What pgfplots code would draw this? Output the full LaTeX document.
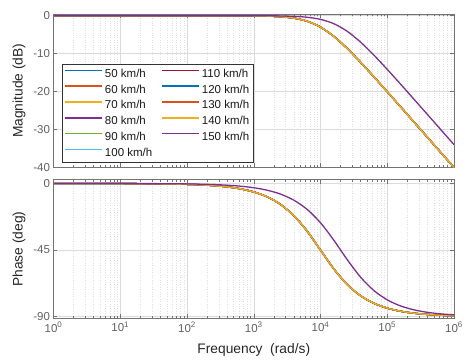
\documentclass[border=0pt]{standalone}
\usepackage{pgfplots}
\pgfplotsset{compat=1.18}
\usepackage{pgfplotstable}
\usepackage{fontspec}
\setmainfont{Liberation Sans}
\definecolor{c1}{rgb}{0,0.447,0.741}
\definecolor{c2}{rgb}{0.85,0.325,0.098}
\definecolor{c3}{rgb}{0.929,0.694,0.125}
\definecolor{c4}{rgb}{0.494,0.184,0.556}
\definecolor{c5}{rgb}{0.466,0.674,0.188}
\definecolor{c6}{rgb}{0.301,0.745,0.933}
\definecolor{c7}{rgb}{0.635,0.078,0.184}

% corner ~1e4 rad/s
\pgfplotstableread{
w mag ph
1e0 0 -0.0057
1.585e0 0 -0.0091
2.512e0 0 -0.0144
3.981e0 0 -0.0228
6.310e0 0 -0.0362
1e1 0 -0.0573
1.585e1 0 -0.0908
2.512e1 0 -0.1439
3.981e1 0 -0.2281
6.310e1 -0.0002 -0.3615
1e2 -0.0004 -0.5729
1.585e2 -0.0011 -0.908
2.512e2 -0.0027 -1.439
3.981e2 -0.0069 -2.280
6.310e2 -0.0173 -3.611
1e3 -0.0432 -5.711
1.585e3 -0.1077 -9.006
2.512e3 -0.2658 -14.10
3.981e3 -0.639 -21.70
6.310e3 -1.455 -32.25
1e4 -3.010 -45.00
1.585e4 -5.455 -57.75
2.512e4 -8.639 -68.30
3.981e4 -12.266 -75.90
6.310e4 -16.108 -81.00
1e5 -20.043 -84.29
1.585e5 -24.017 -86.39
2.512e5 -28.007 -87.72
3.981e5 -32.003 -88.56
6.310e5 -36.001 -89.09
1e6 -40.000 -89.43
}\tabA

% corner ~2e4 rad/s
\pgfplotstableread{
w mag ph
1e0 0 -0.0029
1.585e0 0 -0.0045
2.512e0 0 -0.0072
3.981e0 0 -0.0114
6.310e0 0 -0.0181
1e1 0 -0.0286
1.585e1 0 -0.0454
2.512e1 0 -0.0720
3.981e1 0 -0.1141
6.310e1 0 -0.1808
1e2 -0.0001 -0.2865
1.585e2 -0.0003 -0.454
2.512e2 -0.0007 -0.720
3.981e2 -0.0017 -1.140
6.310e2 -0.0043 -1.807
1e3 -0.0108 -2.862
1.585e3 -0.0272 -4.531
2.512e3 -0.0680 -7.159
3.981e3 -0.1688 -11.26
6.310e3 -0.4121 -17.51
1e4 -0.969 -26.57
1.585e4 -2.116 -38.39
2.512e4 -4.112 -51.47
3.981e4 -6.957 -63.33
6.310e4 -10.396 -72.41
1e5 -14.150 -78.69
1.585e5 -18.048 -82.81
2.512e5 -22.006 -85.45
3.981e5 -25.993 -87.12
6.310e5 -29.985 -88.18
1e6 -33.98 -88.85
}\tabB

\begin{document}
\begin{tikzpicture}
\useasboundingbox (0pt,0pt) rectangle (474pt,363pt);

\begin{axis}[
  scale only axis, width=400.5pt,
  xmode=log, xmin=1, xmax=1e6,
  axis line style={black!55, line width=0.6pt},
  tick style={black!55, line width=0.5pt},
  tick align=inside,
  major tick length=4pt, minor tick length=2.2pt,
  xtick={1e0,1e1,1e2,1e3,1e4,1e5,1e6},
  minor xtick={2e0,3e0,4e0,5e0,6e0,7e0,8e0,9e0,2e1,3e1,4e1,5e1,6e1,7e1,8e1,9e1,2e2,3e2,4e2,5e2,6e2,7e2,8e2,9e2,2e3,3e3,4e3,5e3,6e3,7e3,8e3,9e3,2e4,3e4,4e4,5e4,6e4,7e4,8e4,9e4,2e5,3e5,4e5,5e5,6e5,7e5,8e5,9e5},
  xmajorgrids, xminorgrids, ymajorgrids,
  major grid style={black!14, line width=0.4pt},
  minor grid style={black!12, dotted, line width=0.4pt},
  ticklabel style={font=\fontsize{11.5}{13}\selectfont, text=black!62},
  label style={font=\fontsize{13.8}{16}\selectfont, text=black!85},
  ylabel style={at={(axis description cs:-0.0861,0.5)}, anchor=center},
  every axis plot/.append style={line width=1.3pt, smooth},
  at={(53.5pt,195.5pt)}, anchor=south west, height=153.5pt,
  ymin=-40, ymax=0.45,
  ytick={-40,-30,-20,-10,0}, yticklabels={-40,-30,-20,-10,0},
  xticklabels={},
  ylabel={Magnitude (dB)},
  legend columns=2,
  legend cell align=left,
  legend image code/.code={\draw[line width=1.6pt, #1] (0pt,3.5pt) -- (37pt,3.5pt);},
  legend style={at={(0.0212,0.674)}, anchor=north west,
    draw=black!80, line width=0.8pt, fill=white,
    font=\fontsize{11.5}{13}\selectfont, text=black!90,
    inner xsep=2pt, inner ysep=2.5pt,
    row sep=2.0pt,
    /tikz/every even column/.append style={column sep=7pt}},
]
\addplot[c1, forget plot] table[x=w, y=mag] {\tabA};
\addplot[c2, forget plot] table[x=w, y=mag] {\tabA};
\addplot[c3, forget plot] table[x=w, y=mag] {\tabA};
\addplot[c4, forget plot] table[x=w, y=mag] {\tabA};
\addplot[c5, forget plot] table[x=w, y=mag] {\tabA};
\addplot[c6, forget plot] table[x=w, y=mag] {\tabA};
\addplot[c7, forget plot] table[x=w, y=mag] {\tabA};
\addplot[c1, forget plot] table[x=w, y=mag] {\tabA};
\addplot[c2, forget plot] table[x=w, y=mag] {\tabA};
\addplot[c3, forget plot] table[x=w, y=mag] {\tabA};
\addplot[c4, forget plot] table[x=w, y=mag] {\tabB};
\addlegendimage{draw=c1}\addlegendentry{50 km/h}
\addlegendimage{draw=c7}\addlegendentry{110 km/h}
\addlegendimage{draw=c2}\addlegendentry{60 km/h}
\addlegendimage{draw=c1}\addlegendentry{120 km/h}
\addlegendimage{draw=c3}\addlegendentry{70 km/h}
\addlegendimage{draw=c2}\addlegendentry{130 km/h}
\addlegendimage{draw=c4}\addlegendentry{80 km/h}
\addlegendimage{draw=c3}\addlegendentry{140 km/h}
\addlegendimage{draw=c5}\addlegendentry{90 km/h}
\addlegendimage{draw=c4}\addlegendentry{150 km/h}
\addlegendimage{draw=c6}\addlegendentry{100 km/h}
\end{axis}

\begin{axis}[
  scale only axis, width=400.5pt,
  xmode=log, xmin=1, xmax=1e6,
  axis line style={black!55, line width=0.6pt},
  tick style={black!55, line width=0.5pt},
  tick align=inside,
  major tick length=4pt, minor tick length=2.2pt,
  xtick={1e0,1e1,1e2,1e3,1e4,1e5,1e6},
  minor xtick={2e0,3e0,4e0,5e0,6e0,7e0,8e0,9e0,2e1,3e1,4e1,5e1,6e1,7e1,8e1,9e1,2e2,3e2,4e2,5e2,6e2,7e2,8e2,9e2,2e3,3e3,4e3,5e3,6e3,7e3,8e3,9e3,2e4,3e4,4e4,5e4,6e4,7e4,8e4,9e4,2e5,3e5,4e5,5e5,6e5,7e5,8e5,9e5},
  xmajorgrids, xminorgrids, ymajorgrids,
  major grid style={black!14, line width=0.4pt},
  minor grid style={black!12, dotted, line width=0.4pt},
  ticklabel style={font=\fontsize{11.5}{13}\selectfont, text=black!62},
  label style={font=\fontsize{13.8}{16}\selectfont, text=black!85},
  ylabel style={at={(axis description cs:-0.0861,0.5)}, anchor=center},
  every axis plot/.append style={line width=1.3pt, smooth},
  at={(53.5pt,44.5pt)}, anchor=south west, height=139pt,
  ymin=-91.3, ymax=2.7,
  ytick={-90,-45,0}, yticklabels={-90,-45,0},
  xticklabels={10\textsuperscript{0},10\textsuperscript{1},10\textsuperscript{2},10\textsuperscript{3},10\textsuperscript{4},10\textsuperscript{5},10\textsuperscript{6}},
  ylabel={Phase (deg)},
  xlabel={Frequency\ \ (rad/s)},
  xlabel style={at={(axis description cs:0.5,0)}, anchor=center, yshift=-31.5pt},
]
\addplot[c1] table[x=w, y=ph] {\tabA};
\addplot[c2] table[x=w, y=ph] {\tabA};
\addplot[c3] table[x=w, y=ph] {\tabA};
\addplot[c4] table[x=w, y=ph] {\tabA};
\addplot[c5] table[x=w, y=ph] {\tabA};
\addplot[c6] table[x=w, y=ph] {\tabA};
\addplot[c7] table[x=w, y=ph] {\tabA};
\addplot[c1] table[x=w, y=ph] {\tabA};
\addplot[c2] table[x=w, y=ph] {\tabA};
\addplot[c3] table[x=w, y=ph] {\tabA};
\addplot[c4] table[x=w, y=ph] {\tabB};
\end{axis}
\end{tikzpicture}
\end{document}
